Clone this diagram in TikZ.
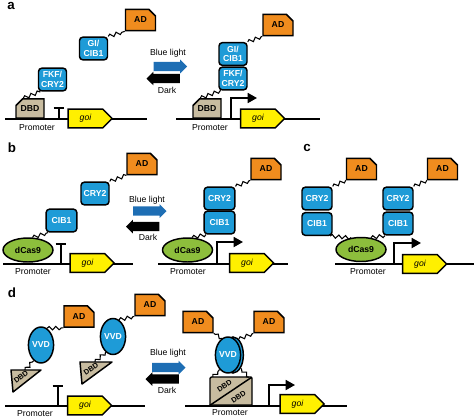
\documentclass[tikz,border=0pt]{standalone}
\usepackage{fontspec}
\setmainfont{Liberation Sans}
\usepackage{tikz}
\usetikzlibrary{shapes.misc, shapes.geometric, shapes.symbols, shapes.arrows, arrows.meta, decorations.pathmorphing}
\definecolor{cryblue}{RGB}{30,155,215}
\definecolor{adorange}{RGB}{240,140,30}
\definecolor{dbdbeige}{RGB}{200,188,160}
\definecolor{casgreen}{RGB}{141,190,60}
\definecolor{goiyellow}{RGB}{255,240,0}
\definecolor{lightblu}{RGB}{30,110,180}
\begin{document}
\begin{tikzpicture}[x=0.75pt, y=-0.75pt,
    every node/.style={inner sep=0.5pt},
    txt/.style={font=\fontsize{6.5}{7}\selectfont},
    lbl/.style={font=\bfseries\fontsize{10}{12}\selectfont},
    tritxt/.style={font=\bfseries\fontsize{5.5}{6}\selectfont, inner sep=0pt},
    prot/.style={draw, line width=1.1pt, rounded corners=2.5pt, fill=cryblue, text=white,
        font=\bfseries\fontsize{6.5}{7.2}\selectfont, align=center, minimum width=21pt, minimum height=17pt},
    adbox/.style={chamfered rectangle, chamfered rectangle corners=north east,
        chamfered rectangle xsep=2.5pt, chamfered rectangle ysep=2.5pt, draw, line width=1.1pt,
        fill=adorange, font=\bfseries\fontsize{6.5}{7}\selectfont, minimum width=22.5pt, minimum height=16pt},
    dbd/.style={chamfered rectangle, chamfered rectangle corners=north west,
        chamfered rectangle xsep=2.5pt, chamfered rectangle ysep=2.5pt, draw, line width=1.1pt,
        fill=dbdbeige, font=\bfseries\fontsize{6.5}{7}\selectfont, minimum width=21pt, minimum height=14.5pt},
    cas/.style={ellipse, draw, line width=1.1pt, fill=casgreen,
        font=\bfseries\fontsize{6.5}{7}\selectfont, minimum width=37.5pt, minimum height=18pt},
    vvd/.style={ellipse, draw, line width=1.1pt, fill=cryblue, text=white,
        font=\bfseries\fontsize{6.5}{7}\selectfont, minimum width=15.5pt, minimum height=27pt, inner sep=0pt},
    goi/.style={signal, signal to=east, draw, line width=1.1pt, fill=goiyellow,
        font=\itshape\fontsize{6.5}{7}\selectfont, minimum width=33pt, minimum height=14pt},
    bluearr/.style={single arrow, fill=lightblu, minimum height=25pt, inner xsep=0pt, inner ysep=3.3pt,
        single arrow head extend=1.6pt, single arrow head indent=0pt},
    darkarr/.style={bluearr, fill=black, shape border rotate=180},
    dna/.style={line width=1.5pt},
    repress/.style={line width=1.3pt, -{Bar[width=8pt]}},
    activ/.style={line width=1.3pt, -{Triangle[length=7pt, width=7.5pt]}},
    linker/.style={line width=0.8pt, decorate, decoration={snake, segment length=5pt, amplitude=1.3pt}},
    tri/.style={draw, line width=1.1pt, fill=dbdbeige, line join=round}]
\useasboundingbox (0,0) rectangle (474,418);
% 面板 a
\node[lbl] (la) at (11,6) {a};
\coordinate (dA1) at (5,119);
\coordinate (dA2) at (147,119);
\draw[dna] (dA1) -- (dA2);
\node[dbd] (dbdA) at (30,108.5) {DBD};
\node[prot] (fkfA) at (52.5,79.5) {FKF/\\CRY2};
\node[prot] (giA) at (93.5,48.5) {GI/\\CIB1};
\node[adbox] (adA) at (140.5,20) {AD};
\coordinate (repA) at (59,119);
\coordinate (repAt) at (59,107);
\draw[repress] (repA) -- (repAt);
\node[goi] (goiA) at (85.5,118.5) {goi};
\node[txt] (prA) at (37,127.5) {Promoter};
\draw[linker] ([xshift=-5pt]dbdA.north) -- ([xshift=2pt]fkfA.south west);
\draw[linker] (giA.north east) -- (adA.south west);
% 光照切换
\node[txt] (blA) at (168,53) {Blue light};
\node[bluearr] (baA) at (168,66.5) {};
\node[darkarr] (daA) at (165.5,78.5) {};
\node[txt] (dkA) at (167,90) {Dark};
% 面板 a, 亮态
\coordinate (dA3) at (176,119);
\coordinate (dA4) at (320,119);
\draw[dna] (dA3) -- (dA4);
\node[dbd] (dbdA2) at (207,108.5) {DBD};
\node[prot] (fkfA2) at (233,78.5) {FKF/\\CRY2};
\node[prot] (giA2) at (233,54) {GI/\\CIB1};
\node[adbox] (adA2) at (278,25) {AD};
\coordinate (actA) at (231,119);
\coordinate (actAt) at (257,98);
\draw[activ] (actA) |- (actAt);
\node[goi] (goiA2) at (258,118.5) {goi};
\node[txt] (prA2) at (210,127.5) {Promoter};
\draw[linker] ([xshift=-5pt]dbdA2.north) -- ([xshift=2pt]fkfA2.south west);
\draw[linker] (giA2.north east) -- (adA2.south west);
% 面板 b
\node[lbl] (lb) at (12,148) {b};
\coordinate (dB1) at (3,264);
\coordinate (dB2) at (133,264);
\draw[dna] (dB1) -- (dB2);
\node[cas] (casB) at (28,250) {dCas9};
\node[prot, minimum width=23pt] (cibB) at (61.5,220.5) {CIB1};
\node[prot] (cryB) at (95,193.5) {CRY2};
\node[adbox] (adB) at (142,164) {AD};
\coordinate (repB) at (61,264);
\coordinate (repBt) at (61,243);
\draw[repress] (repB) -- (repBt);
\node[goi] (goiB) at (87.5,263) {goi};
\node[txt] (prB) at (33,272) {Promoter};
\draw[linker] (casB.70) -- ([xshift=2pt]cibB.south west);
\draw[linker] (cryB.north east) -- (adB.south west);
\node[txt] (blB) at (147,200) {Blue light};
\node[bluearr] (baB) at (147.5,211) {};
\node[darkarr] (daB) at (145,226.5) {};
\node[txt] (dkB) at (148,237) {Dark};
\coordinate (dB3) at (158,264);
\coordinate (dB4) at (288,264);
\draw[dna] (dB3) -- (dB4);
\node[cas] (casB2) at (187.5,250) {dCas9};
\node[prot, minimum width=23pt] (cibB2) at (219.5,222.5) {CIB1};
\node[prot, minimum width=23pt] (cryB2) at (219.5,198.5) {CRY2};
\node[adbox] (adB2) at (266,169) {AD};
\coordinate (actB) at (217,264);
\coordinate (actBt) at (243,242);
\draw[activ] (actB) |- (actBt);
\node[goi] (goiB2) at (247,263) {goi};
\node[txt] (prB2) at (188,272) {Promoter};
\draw[linker] (casB2.70) -- ([xshift=2pt]cibB2.south west);
\draw[linker] (cryB2.north east) -- (adB2.south west);
% 面板 c
\node[lbl] (lc) at (307,148) {c};
\coordinate (dC1) at (335,264);
\coordinate (dC2) at (474,264);
\draw[dna] (dC1) -- (dC2);
\coordinate (actC) at (394,264);
\coordinate (actCt) at (421,243);
\draw[activ] (actC) |- (actCt);
\node[cas] (casC) at (361,249.5) {dCas9};
\node[prot, minimum width=22.5pt] (cryC1) at (317,198.5) {CRY2};
\node[prot, minimum width=22.5pt] (cibC1) at (317,224) {CIB1};
\node[adbox] (adC1) at (361.5,169) {AD};
\node[prot, minimum width=22.5pt] (cryC2) at (398,198.5) {CRY2};
\node[prot, minimum width=22.5pt] (cibC2) at (398,223.5) {CIB1};
\node[adbox] (adC2) at (442.5,169) {AD};
\node[goi] (goiC) at (420,264) {goi};
\node[txt] (prC) at (368,272) {Promoter};
\draw[linker] ([xshift=-2pt]cibC1.south east) -- (casC.130);
\draw[linker] ([xshift=2pt]cibC2.south west) -- (casC.50);
\draw[linker] (cryC1.north east) -- (adC1.south west);
\draw[linker] (cryC2.north east) -- (adC2.south west);
% 面板 d
\node[lbl] (ld) at (12,293) {d};
\coordinate (dD1) at (5,406);
\coordinate (dD2) at (145,406);
\draw[dna] (dD1) -- (dD2);
\coordinate (tA1) at (11,370);
\coordinate (tA2) at (41,370);
\coordinate (tA3) at (13,392);
\filldraw[tri] (tA1) -- (tA2) -- (tA3) -- cycle;
\node[tritxt, rotate=38] (dbdD1) at (21,377) {DBD};
\node[vvd] (vvdD1) at (41,345) {VVD};
\node[adbox] (adD1) at (79,316.5) {AD};
\coordinate (tA4) at (25,370);
\draw[linker] (tA4) -- (vvdD1.245);
\draw[linker] (vvdD1.70) -- (adD1.south west);
\coordinate (tB1) at (80,362);
\coordinate (tB2) at (112,362);
\coordinate (tB3) at (82,384);
\filldraw[tri] (tB1) -- (tB2) -- (tB3) -- cycle;
\node[tritxt, rotate=35] (dbdD2) at (91,369) {DBD};
\node[vvd] (vvdD2) at (113,336.5) {VVD};
\node[adbox] (adD2) at (150,305) {AD};
\coordinate (tB4) at (95,362);
\draw[linker] (tB4) -- (vvdD2.245);
\draw[linker] (vvdD2.70) -- (adD2.south west);
\coordinate (repD) at (58,406);
\coordinate (repDt) at (58,385);
\draw[repress] (repD) -- (repDt);
\node[goi] (goiD) at (85,405.5) {goi};
\node[txt] (prD) at (35,414) {Promoter};
\node[txt] (blD) at (168,353) {Blue light};
\node[bluearr] (baD) at (166.5,367.5) {};
\node[darkarr] (daD) at (164.5,379) {};
\node[txt] (dkD) at (167,390) {Dark};
\coordinate (dD3) at (185,406);
\coordinate (dD4) at (347,406);
\draw[dna] (dD3) -- (dD4);
\node[chamfered rectangle, chamfered rectangle corners={north west, north east},
    chamfered rectangle xsep=2pt, chamfered rectangle ysep=2pt, draw, line width=1.1pt,
    fill=dbdbeige, minimum width=31.5pt, minimum height=21pt] (dbdD) at (231,391) {};
\draw[line width=1.1pt] (dbdD.south west) -- (dbdD.north east);
\node[tritxt, rotate=34] (dbdDa) at (224.5,386) {DBD};
\node[tritxt, rotate=34] (dbdDb) at (238.5,397) {DBD};
\node[vvd] (vvdDb) at (233,355) {};
\node[vvd] (vvdDf) at (228,355) {VVD};
\node[adbox] (adD3) at (198,322) {AD};
\node[adbox] (adD4) at (269,322) {AD};
\draw[linker] (vvdDf.110) -- (adD3.south east);
\draw[linker] (vvdDb.70) -- (adD4.south west);
\draw[linker] ([xshift=2pt]dbdD.north west) -- (vvdDf.240);
\draw[linker] ([xshift=-2pt]dbdD.north east) -- (vvdDb.300);
\coordinate (actD) at (269,406);
\coordinate (actDt) at (295,385);
\draw[activ] (actD) |- (actDt);
\node[goi] (goiD2) at (297.5,404) {goi};
\node[txt] (prD2) at (230,413) {Promoter};
\end{tikzpicture}
\end{document}
